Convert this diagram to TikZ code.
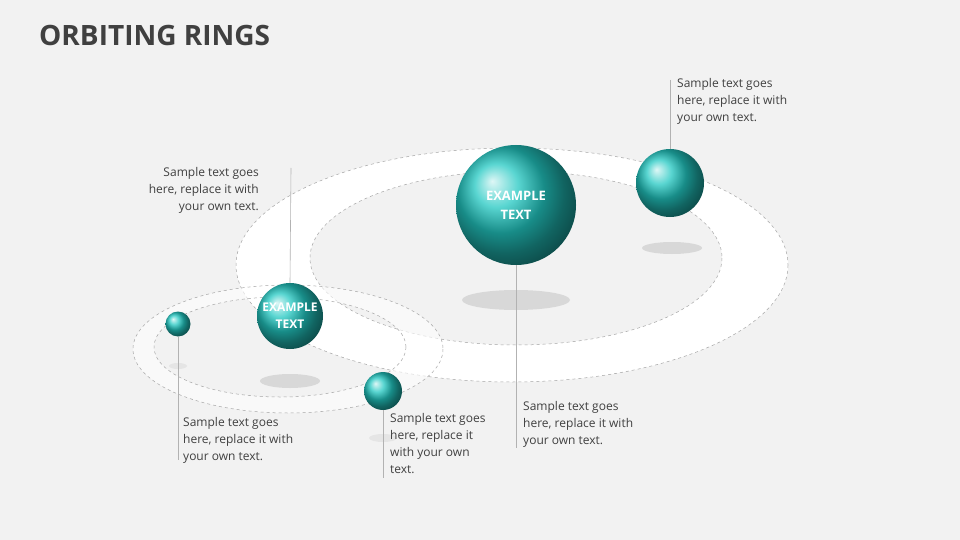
\documentclass[tikz,border=0pt]{standalone}
\usepackage{fontspec}
\setmainfont{Open Sans}
\begin{document}
\begin{tikzpicture}[x=1pt,y=-1pt,
  ring/.style={draw=gray!70,dashed,line width=0.5pt},
  lead/.style={draw=gray!60,line width=0.6pt},
  txt/.style={font=\fontsize{12}{17}\selectfont,text=black!75,inner sep=0pt},
  sph/.style={circle,shade,ball color=sphc,inner sep=0pt},
  shad/.style={fill=black!25,opacity=0.5}]
\definecolor{bg}{HTML}{F2F2F2}
\definecolor{sphc}{HTML}{22C8C2}
\fill[bg] (0,0) rectangle (960,540);
\useasboundingbox (0,0) rectangle (960,540);
\node[anchor=west,font=\fontsize{28}{32}\bfseries\selectfont,text=black!75,inner sep=0pt] (title) at (39,35) {ORBITING RINGS};
% big ring
\fill[white,even odd rule] (512,265) ellipse [x radius=276,y radius=117] (516,258) ellipse [x radius=206,y radius=87];
\draw[ring] (512,265) ellipse [x radius=276,y radius=117];
\draw[ring] (516,258) ellipse [x radius=206,y radius=87];
% small ring
\fill[white,opacity=0.6,even odd rule] (288,349) ellipse [x radius=155,y radius=64] (280,347) ellipse [x radius=126,y radius=50];
\draw[ring] (288,349) ellipse [x radius=155,y radius=64];
\draw[ring] (280,347) ellipse [x radius=126,y radius=50];
% shadows
\fill[shad] (516,300) ellipse [x radius=54,y radius=10];
\fill[shad] (672,248) ellipse [x radius=30,y radius=6];
\fill[shad] (290,381) ellipse [x radius=30,y radius=7];
\fill[shad,opacity=0.25] (383,438) ellipse [x radius=14,y radius=4];
\fill[shad,opacity=0.25] (178,366) ellipse [x radius=9,y radius=3];
% spheres
\node[sph,minimum size=120] (s1) at (516,205) {};
\node[sph,minimum size=68] (s2) at (670,183) {};
\node[sph,minimum size=66] (s3) at (290,316) {};
\node[sph,minimum size=25] (s4) at (178,324) {};
\node[sph,minimum size=38] (s5) at (383,391) {};
\node[font=\fontsize{13}{19}\bfseries\selectfont,text=white,align=center] at (s1) {EXAMPLE\\TEXT};
\node[font=\fontsize{12}{17}\bfseries\selectfont,text=white,align=center] at (s3) {EXAMPLE\\TEXT};
% leader endpoints
\coordinate (c2) at (670,80);
\coordinate (c3) at (291,168);
\coordinate (c1) at (516,448);
\coordinate (c4) at (178,460);
\coordinate (c5) at (383,478);
\draw[lead] (c2) -- (s2.north);
\draw[lead] (c3) -- (s3.north);
\draw[lead] (s1.south) -- (c1);
\draw[lead] (s4.south) -- (c4);
\draw[lead] (s5.south) -- (c5);
% texts
\node[txt,anchor=north west,align=left] (t2) at (677,78) {Sample text goes\\here, replace it with\\your own text.};
\node[txt,anchor=north east,align=right] (t3) at (259,167) {Sample text goes\\here, replace it with\\your own text.};
\node[txt,anchor=north west,align=left] (t1) at (523,401) {Sample text goes\\here, replace it with\\your own text.};
\node[txt,anchor=north west,align=left] (t4) at (183,417) {Sample text goes\\here, replace it with\\your own text.};
\node[txt,anchor=north west,align=left] (t5) at (390,413) {Sample text goes\\here, replace it\\with your own\\text.};
\end{tikzpicture}
\end{document}
